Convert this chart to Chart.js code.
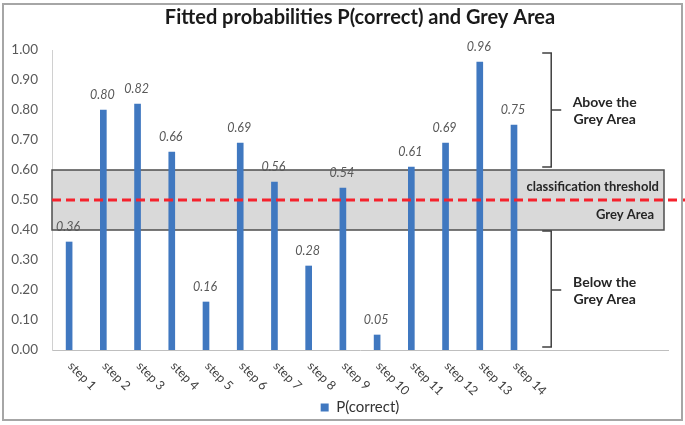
<!DOCTYPE html>
<html>
<head>
<meta charset="utf-8">
<script src="https://cdn.jsdelivr.net/npm/chart.js@4"></script>
<style>
    html, body { margin: 0; padding: 0; background: #fff; }
    #contenedor { width: 685px; height: 425px; }
</style>
</head>
<body>
<div id="contenedor"><canvas id="graficaProb" width="685" height="425"></canvas></div>
<script>
// categorias: las 4 ultimas van vacias para dejar espacio a las llaves
const categorias = ['step 1', 'step 2', 'step 3', 'step 4', 'step 5', 'step 6', 'step 7',
    'step 8', 'step 9', 'step 10', 'step 11', 'step 12', 'step 13', 'step 14', '', '', '', ''];
const probCorrecta = [0.36, 0.80, 0.82, 0.66, 0.16, 0.69, 0.56, 0.28, 0.54, 0.05, 0.61, 0.69, 0.96, 0.75];
const ticksY = [0, 0.1, 0.2, 0.3, 0.4, 0.5, 0.6, 0.7, 0.8, 0.9, 1.0];
const umbral = 0.5;
const zonaGris = [0.40, 0.60];
const llaveArriba = [0.99, 0.80, 0.61];
const llaveAbajo = [0.397, 0.20, 0.01];

const fuente = 'Lato, "Open Sans", sans-serif';

const dibujosExtra = {
    id: 'dibujosExtra',
    beforeDraw(chart) {
        const c = chart.ctx;
        c.save();
        c.fillStyle = '#fff';
        c.fillRect(0, 0, chart.width, chart.height);
        c.restore();
    },
    beforeDatasetsDraw(chart) {
        const { ctx: c, chartArea: a, scales: { y } } = chart;
        const arriba = y.getPixelForValue(zonaGris[1]);
        const abajo = y.getPixelForValue(zonaGris[0]);
        const derecha = a.right - 4;
        c.save();
        c.fillStyle = '#d9d9d9';
        c.fillRect(a.left, arriba, derecha - a.left, abajo - arriba);
        c.strokeStyle = '#4d4d4d';
        c.lineWidth = 1.5;
        c.strokeRect(a.left, arriba, derecha - a.left, abajo - arriba);
        c.restore();
    },
    afterDatasetsDraw(chart) {
        const { ctx: c, chartArea: a, scales: { x, y } } = chart;
        c.save();

        // etiquetas de valor sobre cada barra
        c.font = 'italic 12.5px ' + fuente;
        c.fillStyle = '#595959';
        c.textAlign = 'center';
        c.textBaseline = 'middle';
        chart.getDatasetMeta(0).data.forEach((barra, i) => {
            c.fillText(probCorrecta[i].toFixed(2), barra.x - 1, barra.y - 15);
        });

        // linea roja del umbral
        const yUmbral = y.getPixelForValue(umbral);
        c.strokeStyle = '#f5222d';
        c.lineWidth = 3;
        c.setLineDash([9, 5]);
        c.beginPath();
        c.moveTo(a.left, yUmbral);
        c.lineTo(chart.width, yUmbral);
        c.stroke();
        c.setLineDash([]);

        // textos dentro de la zona gris
        const derecha = a.right - 4;
        c.fillStyle = '#262626';
        c.font = 'bold 13px ' + fuente;
        c.textAlign = 'right';
        c.fillText('classification threshold', derecha - 5, y.getPixelForValue(0.543));
        c.fillText('Grey Area', derecha - 10, y.getPixelForValue(0.45));

        // llaves
        const xLlave = x.getPixelForValue(14) + 3;
        c.strokeStyle = '#404040';
        c.lineWidth = 1.5;
        [llaveArriba, llaveAbajo].forEach(ll => {
            const yTop = y.getPixelForValue(ll[0]);
            const yMid = y.getPixelForValue(ll[1]);
            const yBot = y.getPixelForValue(ll[2]);
            c.beginPath();
            c.moveTo(xLlave - 9, yTop);
            c.lineTo(xLlave, yTop);
            c.lineTo(xLlave, yBot);
            c.lineTo(xLlave - 9, yBot);
            c.moveTo(xLlave, yMid);
            c.lineTo(xLlave + 10, yMid);
            c.stroke();
        });

        c.font = 'bold 14px ' + fuente;
        c.textAlign = 'center';
        const xTexto = x.getPixelForValue(15.65);
        const yA = y.getPixelForValue(llaveArriba[1]);
        c.fillText('Above the', xTexto, yA - 8);
        c.fillText('Grey Area', xTexto, yA + 9);
        const yB = y.getPixelForValue(llaveAbajo[1]);
        c.fillText('Below the', xTexto, yB - 8);
        c.fillText('Grey Area', xTexto, yB + 9);

        c.restore();
    },
    afterDraw(chart) {
        const { ctx: c, chartArea: a, scales: { x } } = chart;
        c.save();
        // etiquetas del eje x giradas hacia abajo
        c.font = '12.5px ' + fuente;
        c.fillStyle = '#404040';
        c.textAlign = 'left';
        c.textBaseline = 'middle';
        x.ticks.forEach((t, i) => {
            const texto = categorias[i];
            if (!texto) return;
            c.save();
            c.translate(x.getPixelForTick(i) + 1, a.bottom + 14);
            c.rotate(Math.PI / 4);
            c.fillText(texto, 0, 0);
            c.restore();
        });

        // marco exterior
        c.strokeStyle = '#a6a6a6';
        c.lineWidth = 2;
        c.strokeRect(3, 4, chart.width - 6, chart.height - 9);
        c.restore();
    }
};

const ctx = document.getElementById('graficaProb').getContext('2d');
new Chart(ctx, {
    type: 'bar',
    data: {
        labels: categorias,
        datasets: [{
            label: 'P(correct)',
            data: probCorrecta,
            backgroundColor: '#4078c0',
            borderWidth: 0,
            barThickness: 6
        }]
    },
    options: {
        responsive: false,
        animation: false,
        layout: { padding: { left: 0, right: 17, top: 0, bottom: 0 } },
        plugins: {
            title: {
                display: true,
                fullSize: false,
                text: 'Fitted probabilities P(correct) and Grey Area',
                color: '#1a1a1a',
                font: { family: fuente, size: 20, weight: 'bold' },
                padding: { top: 6, bottom: 20 }
            },
            legend: {
                display: true,
                position: 'bottom',
                fullSize: false,
                labels: {
                    boxWidth: 8,
                    boxHeight: 8,
                    padding: 10,
                    color: '#333333',
                    font: { family: fuente, size: 15 }
                }
            },
            tooltip: { enabled: false }
        },
        scales: {
            x: {
                grid: { display: false },
                border: { color: '#bfbfbf', width: 1 },
                ticks: { color: 'transparent', autoSkip: false, minRotation: 45, maxRotation: 45 },
                afterFit: s => { s.height = 40; }
            },
            y: {
                min: 0,
                max: 1,
                grid: { display: false, drawTicks: false },
                border: { color: '#d0d0d0', width: 1 },
                afterBuildTicks: s => { s.ticks = ticksY.map(v => ({ value: v })); },
                ticks: {
                    padding: 14,
                    color: '#595959',
                    font: { family: fuente, size: 13.5 },
                    callback: v => v.toFixed(2)
                },
                afterFit: s => { s.width = 52; }
            }
        }
    },
    plugins: [dibujosExtra]
});
</script>
</body>
</html>
